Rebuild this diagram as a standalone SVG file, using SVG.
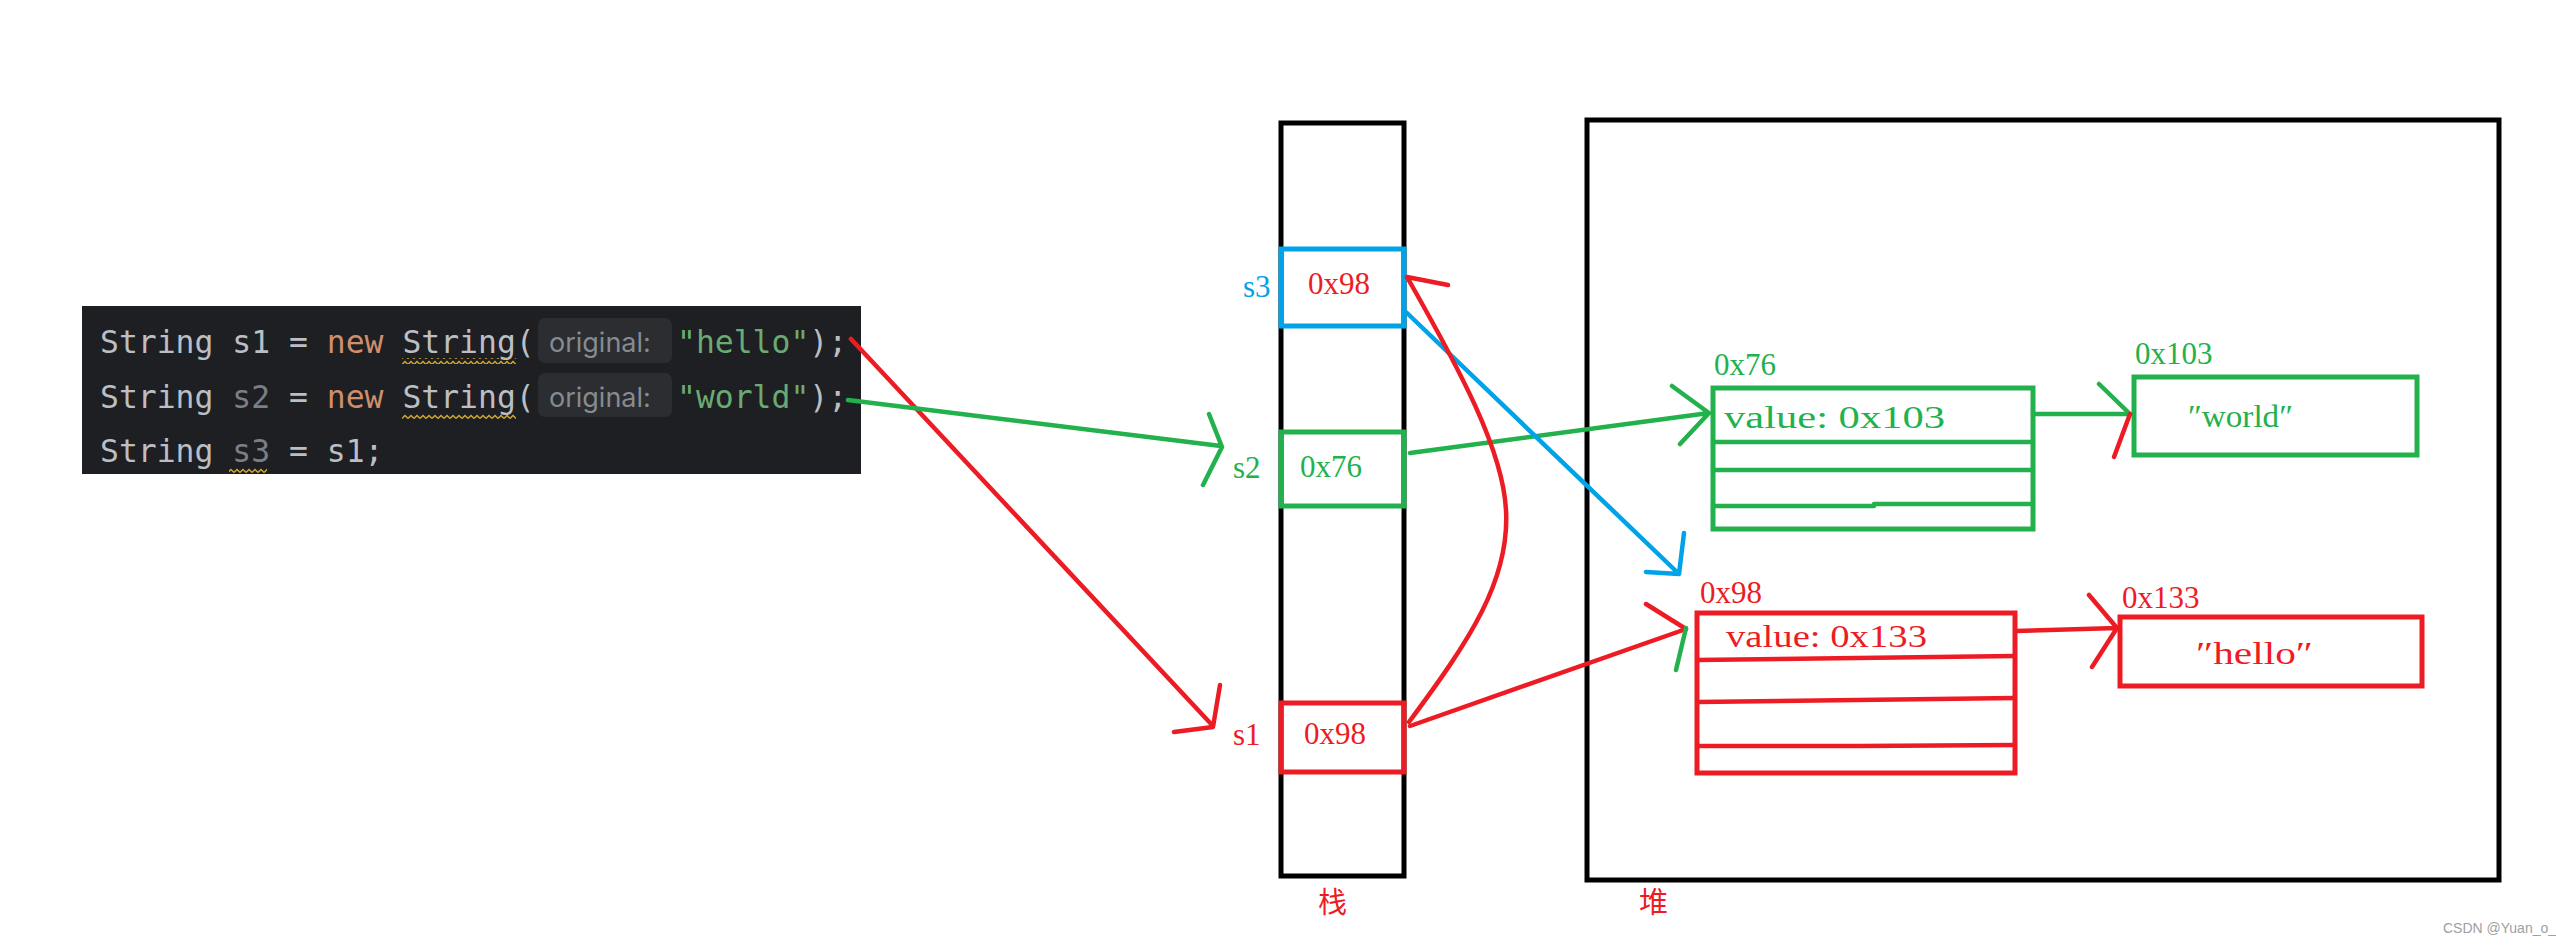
<svg xmlns="http://www.w3.org/2000/svg" width="2556" height="946" viewBox="0 0 2556 946">
<defs>
<style>
.code{font-family:"DejaVu Sans Mono","Liberation Mono",monospace;font-size:31.4px;fill:#bcbec4}
.kw{fill:#cf8e6d}.str{fill:#6aab73}.dim{fill:#7a7e85}
.hint{font-family:Inter,"Noto Sans",sans-serif;font-size:27px;fill:#868a91}
.lbl{font-family:"Liberation Serif",serif;font-size:31px}
.r{fill:#ed1c24}.g{fill:#22b14c}.b{fill:#00a2e8}
.cjk{font-family:"Noto Sans CJK SC",serif;font-size:29px;fill:#ed1c24}
.box{fill:none;stroke-width:5}
.ln{fill:none;stroke-width:4.5;stroke-linecap:round;stroke-linejoin:round}
.sr{stroke:#ed1c24}.sg{stroke:#22b14c}.sb{stroke:#00a2e8}.sk{stroke:#000}
</style>
<pattern id="zz" width="6" height="6" patternUnits="userSpaceOnUse">
<path d="M0,4.5 L3,1.5 L6,4.5" fill="none" stroke="#d6ac2f" stroke-width="1.3"/>
</pattern>
</defs>
<rect width="2556" height="946" fill="#fff"/>

<g id="code">
<rect x="82" y="306" width="779" height="168" fill="#1e1f22"/>
<rect x="538" y="318" width="134" height="45" rx="7" fill="#2b2d30"/>
<rect x="538" y="373" width="134" height="44" rx="7" fill="#2b2d30"/>
<text class="code" x="100" y="353">String s1 = <tspan class="kw">new</tspan> String(</text>
<text class="hint" x="549" y="352">original:</text>
<text class="code" x="677" y="353"><tspan class="str">"hello"</tspan>);</text>
<text class="code" x="100" y="408">String <tspan class="dim">s2</tspan> = <tspan class="kw">new</tspan> String(</text>
<text class="hint" x="549" y="407">original:</text>
<text class="code" x="677" y="408"><tspan class="str">"world"</tspan>);</text>
<text class="code" x="100" y="462">String <tspan class="dim">s3</tspan> = s1;</text>
<rect x="402" y="358" width="114" height="6" fill="url(#zz)"/>
<rect x="402" y="413" width="114" height="6" fill="url(#zz)"/>
<rect x="229" y="467" width="38" height="6" fill="url(#zz)"/>
</g>

<g id="stack">
<rect class="box sk" x="1281" y="123" width="123" height="753"/>
<text class="cjk" x="1318" y="913">栈</text>
</g>
<g id="s3">
<rect class="box sb" x="1281" y="249" width="123" height="77" fill="#fff"/>
<text class="lbl b" x="1243" y="297">s3</text>
<text class="lbl r" x="1308" y="294">0x98</text>
</g>
<g id="s2">
<rect class="box sg" x="1281" y="432" width="123" height="74" fill="#fff"/>
<text class="lbl g" x="1233" y="478">s2</text>
<text class="lbl g" x="1300" y="477">0x76</text>
</g>
<g id="s1">
<rect class="box sr" x="1281" y="703" width="123" height="69" fill="#fff"/>
<text class="lbl r" x="1233" y="745">s1</text>
<text class="lbl r" x="1304" y="744">0x98</text>
</g>

<g id="heap">
<rect class="box sk" x="1587" y="120" width="912" height="760"/>
<text class="cjk" x="1639" y="913">堆</text>
</g>
<g id="obj76">
<rect class="box sg" x="1713" y="388" width="320" height="141"/>
<path class="ln sg" d="M1713,442 H2033 M1713,470 H2033 M1713,506 H1874 L1874,504 H2033"/>
<text class="lbl g" x="1714" y="375">0x76</text>
<text class="lbl g" x="1724" y="428" textLength="221" lengthAdjust="spacingAndGlyphs">value:  0x103</text>
</g>
<g id="world">
<rect class="box sg" x="2134" y="377" width="283" height="78"/>
<text class="lbl g" x="2135" y="364">0x103</text>
<text class="lbl g" x="2188" y="427" textLength="105" lengthAdjust="spacingAndGlyphs">″world″</text>
</g>
<g id="obj98">
<rect class="box sr" x="1697" y="613" width="318" height="160"/>
<path class="ln sr" d="M1697,660 L2015,656 M1697,702 L2015,698 M1697,746 L1860,746 L2015,745"/>
<text class="lbl r" x="1700" y="603">0x98</text>
<text class="lbl r" x="1726" y="647" textLength="201" lengthAdjust="spacingAndGlyphs">value: 0x133</text>
</g>
<g id="hello">
<rect class="box sr" x="2120" y="617" width="302" height="69"/>
<text class="lbl r" x="2122" y="608">0x133</text>
<text class="lbl r" x="2196" y="664" textLength="117" lengthAdjust="spacingAndGlyphs">″hello″</text>
</g>

<g id="connectors">
<path class="ln sr" d="M851,339 L1213,726 M1220,685 L1213,727 L1174,732"/>
<path class="ln sg" d="M848,400 L1221,446 M1209,414 L1222,447 L1203,485"/>
<path class="ln sg" d="M1410,453 L1709,413 M1672,386 L1709,413 L1680,444"/>
<path class="ln sb" d="M1407,313 L1679,574 M1684,533 L1679,574 L1646,572"/>
<path class="ln sr" d="M1409,722 C1470,640 1510,580 1506,510 C1503,450 1460,370 1407,277 M1448,285 L1407,277"/>
<path class="ln sr" d="M1410,726 L1686,629 M1646,604 L1686,629"/>
<path class="ln sg" d="M1686,628 L1676,670"/>
<path class="ln sg" d="M2033,414 L2130,414 M2099,384 L2130,414"/>
<path class="ln sr" d="M2130,414 L2114,457"/>
<path class="ln sr" d="M2015,631 L2117,628 M2089,595 L2117,628 L2092,667"/>
</g>
<text x="2443" y="933" font-family="Liberation Sans,sans-serif" font-size="14" fill="#a0a0a0">CSDN @Yuan_o_</text>
</svg>
